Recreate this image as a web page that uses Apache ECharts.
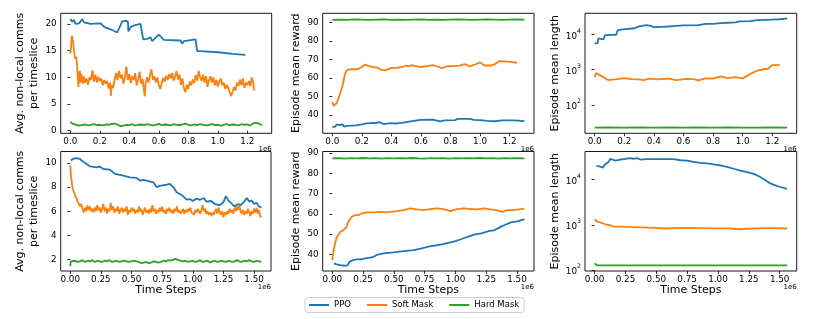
<!DOCTYPE html>
<html><head><meta charset="utf-8">
<script src="https://cdn.jsdelivr.net/npm/echarts@6/dist/echarts.min.js"></script>
<style>html,body{margin:0;padding:0;background:#fff}#c{width:830px;height:319px}</style>
</head><body><div id="c"></div>
<script>
// ---------- data (x in units of 1e6 time steps) ----------
const seriesNames = ['PPO', 'Soft Mask', 'Hard Mask'];
const xTicksTop = [0, 0.2, 0.4, 0.6, 0.8, 1.0, 1.2];
const xTicksBottom = [0, 0.25, 0.5, 0.75, 1.0, 1.25, 1.5];
const yTicksComms1 = [0, 5, 10, 15, 20];
const yTicksReward = [40, 50, 60, 70, 80, 90];
const yTicksLength = [100, 1000, 10000];
const yTicksComms2 = [2, 4, 6, 8, 10];

// Top row
const ppoComms1 = [[0.0,20.9],[0.015,20.4],[0.025,20.8],[0.036,20.0],[0.045,20.3],[0.059,20.1],[0.07,20.3],[0.081,20.9],[0.093,20.3],[0.138,20.0],[0.205,20.1],[0.228,19.5],[0.24,19.3],[0.25,19.2],[0.273,19.0],[0.318,18.4],[0.352,20.5],[0.375,20.6],[0.39,20.5],[0.394,18.6],[0.409,19.4],[0.44,19.8],[0.476,20.0],[0.485,20.0],[0.494,17.1],[0.521,17.2],[0.544,17.5],[0.555,16.8],[0.6,18.0],[0.634,17.0],[0.747,16.9],[0.758,16.3],[0.77,16.8],[0.849,17.1],[0.86,14.9],[0.883,14.9],[1.0,14.7],[1.1,14.4],[1.187,14.2]];
const softComms1 = [[0.0,14.5],[0.005,15.5],[0.01,17.8],[0.015,17.2],[0.02,16.5],[0.025,15.0],[0.03,14.0],[0.035,13.5],[0.04,13.9],[0.045,12.5],[0.05,10.5],[0.055,8.2],[0.06,10.5],[0.065,11.2],[0.07,9.0],[0.075,10.6],[0.08,9.5],[0.085,8.8],[0.09,10.2],[0.1,9.0],[0.11,9.8],[0.12,8.6],[0.13,10.0],[0.14,9.5],[0.15,11.3],[0.16,9.2],[0.17,10.5],[0.18,9.0],[0.19,10.1],[0.2,9.3],[0.21,9.8],[0.22,8.5],[0.23,9.5],[0.24,8.8],[0.25,9.3],[0.26,7.9],[0.27,9.0],[0.275,6.5],[0.28,8.5],[0.29,8.0],[0.3,9.5],[0.31,10.8],[0.32,9.5],[0.33,11.2],[0.34,9.8],[0.35,10.5],[0.36,8.8],[0.37,10.0],[0.38,12.0],[0.39,9.5],[0.4,10.6],[0.41,8.9],[0.42,10.2],[0.43,9.5],[0.44,10.8],[0.45,8.5],[0.46,9.6],[0.47,11.0],[0.48,8.8],[0.49,9.7],[0.5,7.5],[0.505,6.4],[0.51,8.8],[0.52,10.0],[0.53,9.0],[0.54,10.4],[0.55,11.5],[0.56,9.5],[0.57,10.2],[0.58,9.0],[0.59,10.0],[0.6,8.5],[0.61,7.8],[0.62,9.0],[0.63,9.9],[0.64,9.2],[0.65,10.3],[0.66,9.5],[0.67,10.6],[0.68,9.8],[0.69,10.8],[0.7,9.4],[0.71,10.0],[0.72,11.2],[0.73,9.6],[0.74,10.5],[0.75,8.6],[0.76,9.8],[0.77,8.0],[0.78,7.2],[0.79,8.6],[0.8,7.8],[0.81,9.2],[0.82,8.5],[0.83,9.6],[0.84,8.9],[0.85,10.4],[0.86,9.4],[0.87,11.2],[0.88,10.0],[0.89,9.3],[0.9,10.5],[0.91,9.0],[0.92,10.2],[0.93,8.2],[0.94,9.5],[0.95,10.2],[0.96,9.0],[0.97,10.0],[0.98,8.5],[0.99,9.5],[1.0,8.3],[1.01,9.2],[1.02,9.8],[1.03,8.5],[1.04,9.0],[1.05,7.8],[1.06,8.6],[1.07,8.0],[1.08,7.2],[1.09,6.5],[1.1,7.3],[1.11,8.2],[1.12,7.5],[1.13,9.0],[1.14,8.4],[1.15,9.6],[1.16,8.5],[1.17,9.8],[1.18,8.0],[1.19,9.0],[1.2,8.5],[1.21,9.3],[1.22,8.3],[1.23,10.0],[1.24,9.0],[1.245,7.5]];
const hardComms1 = [[0,1.6],[0.01,1.45],[0.02,1.25],[0.03,1.0],[0.04,1.1],[0.06,0.95],[0.08,1.05],[0.1,1.15],[0.12,1.0],[0.14,1.1],[0.16,1.2],[0.18,1.05],[0.2,1.1],[0.22,1.0],[0.24,1.15],[0.26,1.1],[0.28,1.25],[0.3,1.3],[0.32,1.15],[0.34,0.85],[0.36,0.95],[0.38,1.1],[0.4,1.05],[0.42,1.2],[0.44,1.0],[0.46,1.1],[0.48,1.15],[0.5,1.05],[0.52,1.2],[0.54,1.1],[0.56,1.0],[0.58,1.1],[0.6,1.25],[0.62,1.05],[0.64,1.15],[0.66,1.1],[0.68,1.0],[0.7,1.2],[0.72,1.1],[0.74,1.05],[0.76,1.15],[0.78,1.3],[0.8,1.1],[0.82,1.0],[0.84,1.15],[0.86,1.05],[0.88,1.2],[0.9,1.1],[0.92,1.0],[0.94,1.1],[0.96,1.2],[0.98,1.05],[1.0,1.1],[1.02,0.95],[1.04,1.1],[1.06,1.2],[1.08,1.05],[1.1,1.15],[1.12,1.1],[1.14,1.0],[1.16,1.2],[1.18,1.1],[1.2,1.15],[1.22,1.0],[1.24,1.35],[1.26,1.45],[1.28,1.3],[1.3,1.0]];

const ppoReward1 = [[0,33.7],[0.018,33.7],[0.029,34.9],[0.05,34.6],[0.07,35.0],[0.08,33.8],[0.1,34.2],[0.16,34.5],[0.2,35.0],[0.23,35.6],[0.3,35.9],[0.32,36.2],[0.35,35.1],[0.38,35.6],[0.4,35.7],[0.43,35.5],[0.47,35.8],[0.48,36.8],[0.55,36.9],[0.6,37.5],[0.68,37.6],[0.7,37.2],[0.73,36.6],[0.76,37.2],[0.83,37.3],[0.85,38.0],[0.93,38.0],[0.96,37.4],[1.0,37.3],[1.05,36.9],[1.1,36.7],[1.15,37.2],[1.22,37.2],[1.26,37.0],[1.3,36.8]];
const softReward1 = [[0.0,47],[0.01,45],[0.03,46.5],[0.05,51],[0.07,56],[0.085,62],[0.1,64.5],[0.13,64.8],[0.17,64.8],[0.2,66],[0.22,67.3],[0.25,66.5],[0.28,65.8],[0.3,65.8],[0.33,64.5],[0.36,64.2],[0.4,65.5],[0.44,65.6],[0.48,66.2],[0.5,66.8],[0.52,66.4],[0.54,67],[0.56,66.5],[0.6,66],[0.64,66.5],[0.68,67],[0.72,66],[0.74,65.4],[0.78,66.4],[0.82,66.5],[0.86,66.8],[0.9,67.6],[0.93,66.3],[0.97,67.5],[1.0,68.5],[1.03,66.8],[1.07,66.8],[1.1,67.5],[1.13,69.2],[1.17,69.0],[1.2,68.8],[1.25,68.3]];
const hardReward1 = [[0,91.5],[0.05,91.6],[0.1,91.5],[0.15,91.7],[0.2,91.6],[0.25,91.5],[0.3,91.6],[0.35,91.7],[0.4,91.5],[0.45,91.6],[0.5,91.5],[0.55,91.6],[0.6,91.7],[0.65,91.5],[0.7,91.6],[0.75,91.5],[0.8,91.6],[0.85,91.7],[0.9,91.6],[0.95,91.5],[1.0,91.6],[1.05,91.7],[1.1,91.6],[1.15,91.5],[1.2,91.6],[1.25,91.7],[1.3,91.6]];

const ppoLength1 = [[0.0,5700],[0.02,5600],[0.025,7800],[0.035,7200],[0.06,7300],[0.07,9500],[0.1,9700],[0.145,9800],[0.155,13000],[0.19,14000],[0.2,14500],[0.27,15000],[0.3,17000],[0.35,18500],[0.38,17500],[0.4,16000],[0.45,16500],[0.5,16800],[0.55,17500],[0.6,18000],[0.7,18500],[0.75,20000],[0.8,20000],[0.85,21000],[0.9,21500],[0.95,22000],[0.98,23500],[1.05,24000],[1.1,25500],[1.15,26000],[1.2,26500],[1.25,27000],[1.3,28500]];
const softLength1 = [[0,620],[0.01,800],[0.05,650],[0.09,510],[0.15,540],[0.2,580],[0.25,540],[0.3,530],[0.33,510],[0.37,560],[0.42,530],[0.46,550],[0.5,560],[0.55,510],[0.62,550],[0.67,540],[0.7,500],[0.75,570],[0.8,560],[0.85,650],[0.9,580],[0.95,620],[1.0,570],[1.05,750],[1.1,950],[1.15,1050],[1.17,1050],[1.2,1350],[1.25,1380]];
const hardLength1 = [[0,23],[0.1,23.3],[0.2,23],[0.3,23.2],[0.4,22.8],[0.5,23.1],[0.6,23],[0.7,23.2],[0.8,22.9],[0.9,23.1],[1.0,23],[1.1,22.9],[1.2,23.2],[1.3,23]];

// Bottom row
const ppoComms2 = [[0.005,10.2],[0.024,10.35],[0.052,10.4],[0.079,10.33],[0.106,10.1],[0.161,9.72],[0.215,9.64],[0.24,9.7],[0.269,9.5],[0.324,9.45],[0.365,9.1],[0.433,8.95],[0.487,8.8],[0.541,8.76],[0.569,8.54],[0.595,8.6],[0.623,8.54],[0.678,8.4],[0.705,8.0],[0.732,8.1],[0.786,8.2],[0.813,8.26],[0.841,8.0],[0.868,7.57],[0.909,7.35],[0.95,6.97],[0.98,7.0],[1.0,6.85],[1.03,7.05],[1.06,6.95],[1.09,7.1],[1.11,6.8],[1.15,6.85],[1.18,6.6],[1.22,6.5],[1.25,6.75],[1.27,7.25],[1.29,6.9],[1.31,6.7],[1.34,6.4],[1.37,6.6],[1.39,6.5],[1.42,6.8],[1.44,7.1],[1.46,6.8],[1.48,6.9],[1.5,6.6],[1.52,6.7],[1.54,6.4],[1.56,6.3]];
const softComms2 = [[0,9.8],[0.005,9.0],[0.01,8.6],[0.015,8.2],[0.02,7.9],[0.03,7.6],[0.04,7.3],[0.05,7.1],[0.06,6.8],[0.07,6.9],[0.08,6.4],[0.09,6.6],[0.1,6.2],[0.11,5.9],[0.12,6.3],[0.13,6.0],[0.14,6.5],[0.15,6.1],[0.16,6.4],[0.17,6.0],[0.18,6.2],[0.19,5.9],[0.2,6.3],[0.21,6.0],[0.22,6.5],[0.23,6.1],[0.24,6.3],[0.25,5.9],[0.26,6.2],[0.27,6.6],[0.28,6.0],[0.29,6.3],[0.3,5.8],[0.31,6.2],[0.32,6.0],[0.33,6.7],[0.34,6.1],[0.35,6.4],[0.36,5.9],[0.37,6.2],[0.38,6.0],[0.39,6.4],[0.4,5.8],[0.41,6.1],[0.42,6.3],[0.43,5.9],[0.44,6.2],[0.45,6.0],[0.46,6.4],[0.47,5.7],[0.48,6.1],[0.49,5.9],[0.5,6.3],[0.51,6.0],[0.52,6.2],[0.53,5.8],[0.54,6.1],[0.55,5.9],[0.56,6.4],[0.57,6.0],[0.58,6.2],[0.59,5.7],[0.6,6.0],[0.61,6.3],[0.62,5.9],[0.63,6.1],[0.64,5.8],[0.65,6.2],[0.66,5.9],[0.67,6.5],[0.68,6.0],[0.69,6.2],[0.7,5.8],[0.71,6.1],[0.72,5.9],[0.73,6.3],[0.74,6.0],[0.75,6.4],[0.76,5.9],[0.77,6.1],[0.78,5.8],[0.79,6.2],[0.8,6.0],[0.81,6.3],[0.82,5.9],[0.83,6.1],[0.84,5.8],[0.85,6.2],[0.86,6.0],[0.87,6.4],[0.88,5.9],[0.89,6.1],[0.9,5.8],[0.91,6.0],[0.92,6.2],[0.93,5.8],[0.94,6.1],[0.95,5.9],[0.96,6.2],[0.97,6.0],[0.98,6.3],[0.99,5.9],[1.0,6.0],[1.01,5.7],[1.02,6.1],[1.03,5.9],[1.04,6.2],[1.05,6.0],[1.06,5.8],[1.07,6.1],[1.08,6.5],[1.09,6.0],[1.1,6.2],[1.11,5.8],[1.12,6.0],[1.13,5.7],[1.14,5.9],[1.15,5.6],[1.16,5.9],[1.17,5.7],[1.18,6.0],[1.19,6.2],[1.2,5.8],[1.21,6.3],[1.22,5.9],[1.23,5.7],[1.24,6.0],[1.25,5.5],[1.26,5.9],[1.27,5.7],[1.28,6.0],[1.29,5.8],[1.3,6.2],[1.31,5.9],[1.32,6.1],[1.33,5.8],[1.34,6.3],[1.35,6.0],[1.36,6.4],[1.37,6.1],[1.38,6.5],[1.39,6.0],[1.4,5.8],[1.41,6.1],[1.42,5.7],[1.43,6.0],[1.44,5.8],[1.45,6.2],[1.46,5.9],[1.47,5.6],[1.48,6.0],[1.49,5.8],[1.5,6.2],[1.51,5.9],[1.52,6.3],[1.53,5.8],[1.54,6.1],[1.55,5.6],[1.56,5.5]];
const hardComms2 = [[0,1.45],[0.004,1.85],[0.02,1.8],[0.04,1.9],[0.06,1.8],[0.08,1.85],[0.1,1.95],[0.12,1.8],[0.14,1.9],[0.16,1.85],[0.18,1.95],[0.2,1.8],[0.22,1.9],[0.24,1.85],[0.26,1.8],[0.28,1.9],[0.3,1.85],[0.32,1.95],[0.34,1.8],[0.36,1.85],[0.38,1.9],[0.4,1.8],[0.42,1.85],[0.44,1.9],[0.46,1.85],[0.48,1.8],[0.5,1.85],[0.52,1.9],[0.54,1.85],[0.56,1.8],[0.58,1.7],[0.6,1.75],[0.62,1.8],[0.64,1.7],[0.66,1.75],[0.68,1.85],[0.7,1.8],[0.72,1.75],[0.74,1.8],[0.76,1.9],[0.78,1.85],[0.8,1.95],[0.82,1.9],[0.84,2.0],[0.86,2.05],[0.88,1.95],[0.9,1.9],[0.92,1.85],[0.94,1.9],[0.96,1.8],[0.98,1.85],[1.0,1.9],[1.02,1.8],[1.04,1.85],[1.06,1.95],[1.08,1.8],[1.1,1.85],[1.12,1.9],[1.14,1.75],[1.16,1.85],[1.18,1.9],[1.2,1.8],[1.22,1.85],[1.24,1.9],[1.26,1.8],[1.28,1.85],[1.3,1.9],[1.32,1.8],[1.34,1.85],[1.36,1.95],[1.38,1.85],[1.4,1.8],[1.42,1.9],[1.44,1.85],[1.46,1.95],[1.48,1.85],[1.5,1.8],[1.52,1.9],[1.54,1.85],[1.56,1.8]];

const ppoReward2 = [[0.014,35.6],[0.035,35.1],[0.063,34.7],[0.103,34.4],[0.125,34.6],[0.14,36.4],[0.17,37.2],[0.198,37.5],[0.239,37.6],[0.266,38.0],[0.307,38.4],[0.334,38.8],[0.361,39.7],[0.416,40.5],[0.497,41.0],[0.579,41.6],[0.66,42.1],[0.72,42.9],[0.78,43.8],[0.83,44.3],[0.89,44.9],[0.95,45.8],[1.0,46.6],[1.05,47.6],[1.1,48.7],[1.16,49.9],[1.21,50.4],[1.27,51.5],[1.32,52.0],[1.37,53.7],[1.4,54.5],[1.45,55.8],[1.51,56.4],[1.56,57.4]];
const softReward2 = [[0,37.2],[0.008,41.3],[0.022,45.4],[0.035,48.2],[0.063,50.9],[0.09,52],[0.117,53.6],[0.13,56.1],[0.158,58.6],[0.185,59.4],[0.212,59.4],[0.239,60.2],[0.28,60.7],[0.334,60.7],[0.389,61.0],[0.429,60.7],[0.47,61.0],[0.524,61.4],[0.579,61.9],[0.633,62.7],[0.688,62.2],[0.742,61.9],[0.796,62.4],[0.851,62.7],[0.905,62.4],[0.959,61.4],[1.014,62.4],[1.068,62.7],[1.122,62.4],[1.177,62.2],[1.231,62.7],[1.285,62.2],[1.34,61.7],[1.38,61.0],[1.42,61.9],[1.47,61.9],[1.51,62.2],[1.56,62.6]];
const hardReward2 = [[0,87.4],[0.05,87.5],[0.1,87.3],[0.15,87.5],[0.2,87.4],[0.25,87.6],[0.3,87.4],[0.35,87.5],[0.4,87.3],[0.45,87.5],[0.5,87.4],[0.55,87.5],[0.6,87.4],[0.65,87.6],[0.7,87.4],[0.75,87.3],[0.8,87.5],[0.85,87.4],[0.9,87.5],[0.95,87.3],[1.0,87.5],[1.05,87.4],[1.1,87.5],[1.15,87.4],[1.2,87.6],[1.25,87.4],[1.3,87.5],[1.35,87.3],[1.4,87.5],[1.45,87.4],[1.5,87.5],[1.56,87.4]];

const ppoLength2 = [[0.014,20000],[0.032,20000],[0.046,19000],[0.068,18500],[0.078,21000],[0.086,22500],[0.114,25000],[0.127,29000],[0.141,26500],[0.168,26500],[0.208,28000],[0.249,29000],[0.289,30000],[0.316,29000],[0.343,30000],[0.37,28000],[0.424,28500],[0.532,28500],[0.641,28500],[0.695,27000],[0.749,26500],[0.803,25000],[0.857,23500],[0.911,23000],[0.965,21800],[1.019,20800],[1.073,19200],[1.127,17500],[1.181,16000],[1.235,14800],[1.289,13500],[1.343,11500],[1.384,9700],[1.424,8300],[1.465,7500],[1.505,6900],[1.559,6300]];
const softLength2 = [[0,1330],[0.019,1200],[0.046,1130],[0.086,1030],[0.127,980],[0.154,910],[0.208,910],[0.262,900],[0.37,880],[0.478,860],[0.586,830],[0.641,850],[0.749,860],[0.857,850],[0.965,840],[1.073,840],[1.127,820],[1.181,800],[1.235,820],[1.316,840],[1.397,850],[1.451,850],[1.559,830]];
const hardLength2 = [[0,140],[0.01,130],[0.02,127],[0.1,126],[0.2,127],[0.3,126],[0.4,126],[0.5,127],[0.6,126],[0.7,126],[0.8,127],[0.9,126],[1.0,126],[1.1,127],[1.2,126],[1.3,126],[1.4,127],[1.5,126],[1.56,126]];

// ---------- layout / styling ----------
const colors = ['#1f77b4', '#ff7f0e', '#2ca02c'];
const FONT = 'DejaVu Sans';
const TICK_FS = 8.8;
const panels = [
  {grid:{left:60.7, top:13.3, width:211, height:120}, x:[-0.065,1.365], xt:xTicksTop, dig:1, y:[-0.5,22], yt:yTicksComms1, log:false, name:'Avg. non-local comms\nper timeslice', gap:13, xname:'', data:[ppoComms1, softComms1, hardComms1]},
  {grid:{left:322.7, top:13.3, width:211.3, height:120}, x:[-0.065,1.365], xt:xTicksTop, dig:1, y:[30.2,95], yt:yTicksReward, log:false, name:'Episode mean reward', gap:16, xname:'', data:[ppoReward1, softReward1, hardReward1]},
  {grid:{left:585, top:13.3, width:211.7, height:120}, x:[-0.065,1.365], xt:xTicksTop, dig:1, y:[15.8,39800], yt:yTicksLength, log:true, name:'Episode mean length', gap:20, xname:'', data:[ppoLength1, softLength1, hardLength1]},
  {grid:{left:60.7, top:151.5, width:210.3, height:119.5}, x:[-0.078,1.638], xt:xTicksBottom, dig:2, y:[1.05,10.95], yt:yTicksComms2, log:false, name:'Avg. non-local comms\nper timeslice', gap:13, xname:'Time Steps', data:[ppoComms2, softComms2, hardComms2]},
  {grid:{left:322.7, top:151.5, width:211.3, height:119.5}, x:[-0.078,1.638], xt:xTicksBottom, dig:2, y:[31.8,90.8], yt:yTicksReward, log:false, name:'Episode mean reward', gap:16, xname:'Time Steps', data:[ppoReward2, softReward2, hardReward2]},
  {grid:{left:585, top:151.5, width:211.7, height:119.5}, x:[-0.078,1.638], xt:xTicksBottom, dig:2, y:[95,42200], yt:yTicksLength, log:true, name:'Episode mean length', gap:21, xname:'Time Steps', data:[ppoLength2, softLength2, hardLength2]}
];

const grids = [], xAxes = [], yAxes = [], series = [], graphics = [];
panels.forEach((p, i) => {
  grids.push(Object.assign({show:true, borderColor:'#000', borderWidth:0.9, backgroundColor:'transparent'}, p.grid));
  xAxes.push({
    type:'value', gridIndex:i, min:p.x[0], max:p.x[1],
    name:p.xname, nameLocation:'middle', nameGap:13,
    nameTextStyle:{fontFamily:FONT, fontSize:11, color:'#000'},
    axisLine:{show:false}, splitLine:{show:false},
    axisTick:{show:true, length:3, lineStyle:{color:'#000', width:0.8}, customValues:p.xt},
    axisLabel:{show:true, margin:4, fontFamily:FONT, fontSize:TICK_FS, color:'#000', customValues:p.xt,
      formatter:v => Number(v).toFixed(p.dig)}
  });
  const yAxis = {
    type:p.log ? 'log' : 'value', gridIndex:i, min:p.y[0], max:p.y[1],
    name:p.name, nameLocation:'middle', nameGap:p.gap, nameRotate:90,
    nameTextStyle:{fontFamily:FONT, fontSize:11, color:'#000', lineHeight:14},
    axisLine:{show:false}, splitLine:{show:false},
    axisTick:{show:true, length:3, lineStyle:{color:'#000', width:0.8}, customValues:p.yt},
    axisLabel:{show:true, margin:4, fontFamily:FONT, fontSize:TICK_FS, color:'#000', customValues:p.yt}
  };
  if (p.log) {
    yAxis.logBase = 10;
    yAxis.axisLabel.formatter = v => '{b|10}{s|' + Math.round(Math.log10(v)) + '}';
    yAxis.axisLabel.rich = {
      b:{fontFamily:FONT, fontSize:TICK_FS, color:'#000', lineHeight:13, verticalAlign:'bottom'},
      s:{fontFamily:FONT, fontSize:6.2, color:'#000', lineHeight:13, verticalAlign:'top'}
    };
  } else {
    yAxis.axisLabel.formatter = v => String(Math.round(v));
  }
  yAxes.push(yAxis);
  p.data.forEach((d, k) => {
    series.push({
      name:seriesNames[k], type:'line', xAxisIndex:i, yAxisIndex:i, data:d,
      showSymbol:false, symbol:'none', lineStyle:{width:1.8, color:colors[k]}, itemStyle:{color:colors[k]},
      z:2 + k, silent:true
    });
  });
  const right = p.grid.left + p.grid.width;
  const yOff = p.grid.top + p.grid.height + (i < 3 ? 15.5 : 16.5);
  graphics.push({type:'text', x:right, y:yOff, style:{text:'1e6', align:'right', verticalAlign:'middle', fontFamily:FONT, fontSize:7, fill:'#000'}});
});

const chart = echarts.init(document.getElementById('c'), null, {renderer:'canvas'});
chart.setOption({
  animation:false,
  backgroundColor:'#fff',
  grid:grids, xAxis:xAxes, yAxis:yAxes, series:series, graphic:graphics,
  legend:{
    data:seriesNames, left:305, top:297.5, orient:'horizontal', icon:'rect', itemWidth:20, itemHeight:2,
    itemGap:16, padding:[3,5,3,4], borderColor:'#cccccc', borderWidth:1, borderRadius:3,
    textStyle:{fontFamily:FONT, fontSize:8.5, color:'#000'}
  }
});
</script>
</body></html>
